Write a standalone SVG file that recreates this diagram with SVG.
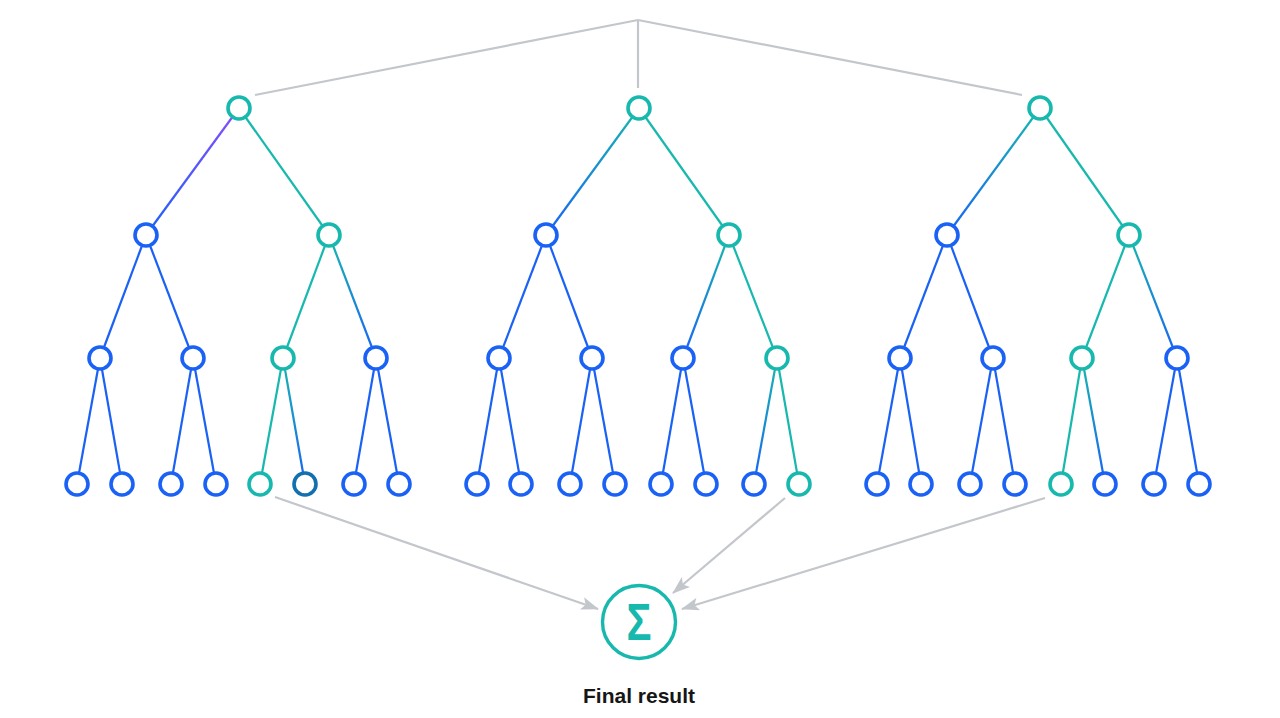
<svg xmlns="http://www.w3.org/2000/svg" width="1280" height="718" viewBox="0 0 1280 718">
<defs>
<style>
.e line{stroke-width:2.2;fill:none}
.b{stroke:#1a62f5}
.t{stroke:#17b8ad}
.tb{stroke:url(#gTB)}
.pb{stroke:url(#gPB)}
.g{stroke:#c3c7cc;stroke-width:2.2;fill:none}
.n circle{fill:#fff;stroke-width:3.6}
.nb{stroke:#1a62f5}
.nt{stroke:#17b8ad}
.nd{stroke:#126fb0}
</style>
<linearGradient id="gTB" x1="0" y1="0" x2="0" y2="1">
<stop offset="0" stop-color="#17b8ad"/>
<stop offset="1" stop-color="#1a62f5"/>
</linearGradient>
<linearGradient id="gPB" x1="0" y1="0" x2="0" y2="1">
<stop offset="0" stop-color="#8a4dff"/>
<stop offset="1" stop-color="#1a62f5"/>
</linearGradient>
<marker id="ah" viewBox="0 0 18 13" refX="17" refY="6.5" markerWidth="18" markerHeight="13" markerUnits="userSpaceOnUse" orient="auto">
<path d="M0,0 L18,6.5 L0,13 L4,6.5 z" fill="#c3c7cc"/>
</marker>
</defs>
<rect width="1280" height="718" fill="#fff"/>

<g id="connectors" class="e">
<line class="g" x1="638" y1="20" x2="255" y2="95"/>
<line class="g" x1="638" y1="20" x2="638" y2="88"/>
<line class="g" x1="638" y1="20" x2="1022" y2="95"/>
<line class="pb" x1="239" y1="108" x2="146" y2="235"/>
<line class="t" x1="239" y1="108" x2="329" y2="235"/>
<line class="b" x1="146" y1="235" x2="100" y2="358"/>
<line class="b" x1="146" y1="235" x2="193" y2="358"/>
<line class="t" x1="329" y1="235" x2="283" y2="358"/>
<line class="tb" x1="329" y1="235" x2="376" y2="358"/>
<line class="b" x1="100" y1="358" x2="77" y2="484"/>
<line class="b" x1="100" y1="358" x2="122" y2="484"/>
<line class="b" x1="193" y1="358" x2="171" y2="484"/>
<line class="b" x1="193" y1="358" x2="216" y2="484"/>
<line class="t" x1="283" y1="358" x2="260" y2="484"/>
<line class="tb" x1="283" y1="358" x2="305" y2="484"/>
<line class="b" x1="376" y1="358" x2="354" y2="484"/>
<line class="b" x1="376" y1="358" x2="399" y2="484"/>
<line class="tb" x1="639" y1="108" x2="546" y2="235"/>
<line class="t" x1="639" y1="108" x2="729" y2="235"/>
<line class="b" x1="546" y1="235" x2="499" y2="358"/>
<line class="b" x1="546" y1="235" x2="592" y2="358"/>
<line class="tb" x1="729" y1="235" x2="683" y2="358"/>
<line class="t" x1="729" y1="235" x2="777" y2="358"/>
<line class="b" x1="499" y1="358" x2="477" y2="484"/>
<line class="b" x1="499" y1="358" x2="521" y2="484"/>
<line class="b" x1="592" y1="358" x2="570" y2="484"/>
<line class="b" x1="592" y1="358" x2="615" y2="484"/>
<line class="b" x1="683" y1="358" x2="661" y2="484"/>
<line class="b" x1="683" y1="358" x2="706" y2="484"/>
<line class="tb" x1="777" y1="358" x2="754" y2="484"/>
<line class="t" x1="777" y1="358" x2="799" y2="484"/>
<line class="tb" x1="1040" y1="108" x2="947" y2="235"/>
<line class="t" x1="1040" y1="108" x2="1129" y2="235"/>
<line class="b" x1="947" y1="235" x2="900" y2="358"/>
<line class="b" x1="947" y1="235" x2="993" y2="358"/>
<line class="t" x1="1129" y1="235" x2="1082" y2="358"/>
<line class="tb" x1="1129" y1="235" x2="1177" y2="358"/>
<line class="b" x1="900" y1="358" x2="877" y2="484"/>
<line class="b" x1="900" y1="358" x2="921" y2="484"/>
<line class="b" x1="993" y1="358" x2="970" y2="484"/>
<line class="b" x1="993" y1="358" x2="1015" y2="484"/>
<line class="t" x1="1082" y1="358" x2="1061" y2="484"/>
<line class="tb" x1="1082" y1="358" x2="1105" y2="484"/>
<line class="b" x1="1177" y1="358" x2="1154" y2="484"/>
<line class="b" x1="1177" y1="358" x2="1199" y2="484"/>
<line class="g" x1="275" y1="497" x2="598" y2="609" marker-end="url(#ah)"/>
<line class="g" x1="785" y1="498" x2="673" y2="593" marker-end="url(#ah)"/>
<line class="g" x1="1045" y1="498" x2="682" y2="609" marker-end="url(#ah)"/>
</g>

<g class="n">
<g id="t1-root"><circle class="nt" cx="239" cy="108" r="11"/></g>
<g id="t1-a"><circle class="nb" cx="146" cy="235" r="11"/></g>
<g id="t1-b"><circle class="nt" cx="329" cy="235" r="11"/></g>
<g id="t1-aa"><circle class="nb" cx="100" cy="358" r="11"/></g>
<g id="t1-ab"><circle class="nb" cx="193" cy="358" r="11"/></g>
<g id="t1-ba"><circle class="nt" cx="283" cy="358" r="11"/></g>
<g id="t1-bb"><circle class="nb" cx="376" cy="358" r="11"/></g>
<g id="t1-l1"><circle class="nb" cx="77" cy="484" r="11"/></g>
<g id="t1-l2"><circle class="nb" cx="122" cy="484" r="11"/></g>
<g id="t1-l3"><circle class="nb" cx="171" cy="484" r="11"/></g>
<g id="t1-l4"><circle class="nb" cx="216" cy="484" r="11"/></g>
<g id="t1-l5"><circle class="nt" cx="260" cy="484" r="11"/></g>
<g id="t1-l6"><circle class="nd" cx="305" cy="484" r="11"/></g>
<g id="t1-l7"><circle class="nb" cx="354" cy="484" r="11"/></g>
<g id="t1-l8"><circle class="nb" cx="399" cy="484" r="11"/></g>

<g id="t2-root"><circle class="nt" cx="639" cy="108" r="11"/></g>
<g id="t2-a"><circle class="nb" cx="546" cy="235" r="11"/></g>
<g id="t2-b"><circle class="nt" cx="729" cy="235" r="11"/></g>
<g id="t2-aa"><circle class="nb" cx="499" cy="358" r="11"/></g>
<g id="t2-ab"><circle class="nb" cx="592" cy="358" r="11"/></g>
<g id="t2-ba"><circle class="nb" cx="683" cy="358" r="11"/></g>
<g id="t2-bb"><circle class="nt" cx="777" cy="358" r="11"/></g>
<g id="t2-l1"><circle class="nb" cx="477" cy="484" r="11"/></g>
<g id="t2-l2"><circle class="nb" cx="521" cy="484" r="11"/></g>
<g id="t2-l3"><circle class="nb" cx="570" cy="484" r="11"/></g>
<g id="t2-l4"><circle class="nb" cx="615" cy="484" r="11"/></g>
<g id="t2-l5"><circle class="nb" cx="661" cy="484" r="11"/></g>
<g id="t2-l6"><circle class="nb" cx="706" cy="484" r="11"/></g>
<g id="t2-l7"><circle class="nb" cx="754" cy="484" r="11"/></g>
<g id="t2-l8"><circle class="nt" cx="799" cy="484" r="11"/></g>

<g id="t3-root"><circle class="nt" cx="1040" cy="108" r="11"/></g>
<g id="t3-a"><circle class="nb" cx="947" cy="235" r="11"/></g>
<g id="t3-b"><circle class="nt" cx="1129" cy="235" r="11"/></g>
<g id="t3-aa"><circle class="nb" cx="900" cy="358" r="11"/></g>
<g id="t3-ab"><circle class="nb" cx="993" cy="358" r="11"/></g>
<g id="t3-ba"><circle class="nt" cx="1082" cy="358" r="11"/></g>
<g id="t3-bb"><circle class="nb" cx="1177" cy="358" r="11"/></g>
<g id="t3-l1"><circle class="nb" cx="877" cy="484" r="11"/></g>
<g id="t3-l2"><circle class="nb" cx="921" cy="484" r="11"/></g>
<g id="t3-l3"><circle class="nb" cx="970" cy="484" r="11"/></g>
<g id="t3-l4"><circle class="nb" cx="1015" cy="484" r="11"/></g>
<g id="t3-l5"><circle class="nt" cx="1061" cy="484" r="11"/></g>
<g id="t3-l6"><circle class="nb" cx="1105" cy="484" r="11"/></g>
<g id="t3-l7"><circle class="nb" cx="1154" cy="484" r="11"/></g>
<g id="t3-l8"><circle class="nb" cx="1199" cy="484" r="11"/></g>
</g>

<g id="sum">
<circle cx="639" cy="622" r="36.5" fill="#fff" stroke="#17b8ad" stroke-width="3.4"/>
<text transform="translate(639,640) scale(0.8,1)" text-anchor="middle" font-family="Liberation Sans, Arial, sans-serif" font-size="52" font-weight="bold" fill="#17b8ad">Σ</text>
<text x="639" y="703" text-anchor="middle" font-family="Liberation Sans, Arial, sans-serif" font-size="21" font-weight="bold" fill="#161616">Final result</text>
</g>
</svg>
